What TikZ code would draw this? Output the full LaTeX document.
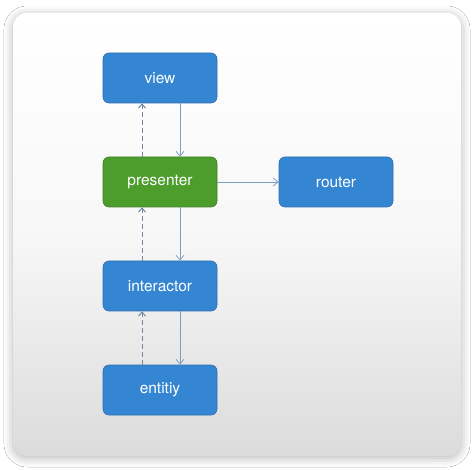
\documentclass[tikz,border=0pt]{standalone}
\usepackage{fontspec}
\setmainfont{TeX Gyre Heros}
\usetikzlibrary{arrows.meta,shadows.blur}
\definecolor{boxblue}{HTML}{3586D2}
\definecolor{boxblueb}{HTML}{2B6FB2}
\definecolor{boxgreen}{HTML}{4C9D2C}
\definecolor{boxgreenb}{HTML}{3E8124}
\definecolor{solidarr}{HTML}{7C9DC4}
\definecolor{dasharr}{HTML}{74879E}
\tikzset{
  box/.style={draw=boxblueb, fill=boxblue, rounded corners=6pt, minimum width=114pt, minimum height=50pt, text=white, font=\fontsize{15.5}{17}\selectfont, inner sep=0pt, line width=0.6pt},
  gbox/.style={box, draw=boxgreenb, fill=boxgreen},
  flow/.style={draw=solidarr, line width=0.7pt, -{Straight Barb[length=5pt,width=8pt]}},
  back/.style={draw=dasharr, line width=1pt, dash pattern=on 5pt off 3pt, -{Straight Barb[length=4pt,width=7pt]}}
}
\begin{document}
\begin{tikzpicture}[x=1pt,y=-1pt]
\useasboundingbox (0,0) rectangle (474,470);
\fill[white] (0,0) rectangle (474,470);
\shade[top color=white, bottom color=black!14, middle color=black!3, rounded corners=14pt,
  blur shadow={shadow xshift=0pt, shadow yshift=-2pt, shadow blur radius=9pt, shadow opacity=30}]
  (13,13) rectangle (461,456);
\node[box]  (view)       at (160,78)  {view};
\node[gbox] (presenter)  at (160,182) {presenter};
\node[box]  (router)     at (336,182) {router};
\node[box]  (interactor) at (160,286) {interactor};
\node[box]  (entity)     at (160,390) {entitiy};
\draw[flow] ([xshift=20pt]view.south) -- ([xshift=20pt]presenter.north);
\draw[back] ([xshift=-18pt]presenter.north) -- ([xshift=-18pt]view.south);
\draw[flow] ([xshift=20pt]presenter.south) -- ([xshift=20pt]interactor.north);
\draw[back] ([xshift=-18pt]interactor.north) -- ([xshift=-18pt]presenter.south);
\draw[flow] ([xshift=20pt]interactor.south) -- ([xshift=20pt]entity.north);
\draw[back] ([xshift=-18pt]entity.north) -- ([xshift=-18pt]interactor.south);
\draw[flow] (presenter.east) -- (router.west);
\node[text=white, font=\fontsize{4}{5}\selectfont, anchor=east] (wm) at (470,464) {CSDN @\_linxinlei};
\end{tikzpicture}
\end{document}
